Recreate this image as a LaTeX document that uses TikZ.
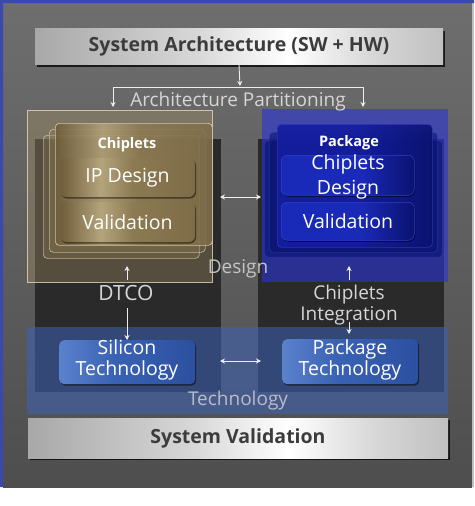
\documentclass[tikz,border=0pt]{standalone}
\usepackage{fontspec}
\setmainfont{Open Sans}
\usetikzlibrary{arrows.meta,shadows}

\definecolor{bgtop}{HTML}{6E6E6E}
\definecolor{bgbot}{HTML}{4E4E4E}
\definecolor{darkc}{HTML}{2A2A2A}
\definecolor{barTxt}{HTML}{3C3C3C}
\definecolor{lblc}{HTML}{D6D6D6}
\definecolor{lblc2}{HTML}{C4C4C4}
\definecolor{techlbl}{HTML}{B8BCC8}
\definecolor{arrowc}{HTML}{EEEEEE}
\definecolor{tanc}{HTML}{8C7A52}
\definecolor{tanL}{HTML}{B4A47C}
\definecolor{tanD}{HTML}{6E5C3A}
\definecolor{tanM}{HTML}{7E6C48}
\definecolor{tanEdge}{HTML}{DDD2B2}
\definecolor{tanOut}{HTML}{A89464}
\definecolor{pkgOut}{HTML}{2A34D8}
\definecolor{pkgL}{HTML}{1A2AB8}
\definecolor{pkgD}{HTML}{0A1270}
\definecolor{pkgF}{HTML}{141EA0}
\definecolor{pkgEdge}{HTML}{3040C8}
\definecolor{bandc}{HTML}{3C62B8}
\definecolor{techL}{HTML}{5A82CC}
\definecolor{techM}{HTML}{3A62B4}
\definecolor{techD}{HTML}{2C50A0}
\definecolor{frameBlue}{HTML}{3A48B0}
\definecolor{mA}{HTML}{A8A8A8}
\definecolor{mB}{HTML}{D8D8D8}
\definecolor{mC}{HTML}{C0C0C0}

\pgfdeclarehorizontalshading{metalbar}{100bp}{color(0bp)=(mA); color(25bp)=(mA); color(45bp)=(mB); color(56bp)=(white); color(66bp)=(mB); color(75bp)=(mC); color(100bp)=(mC)}
\pgfdeclarehorizontalshading{tanshade}{100bp}{color(0bp)=(tanD); color(25bp)=(tanD); color(40bp)=(tanL); color(52bp)=(tanc); color(75bp)=(tanM); color(100bp)=(tanM)}
\pgfdeclarehorizontalshading{pkgshade}{100bp}{color(0bp)=(pkgL); color(25bp)=(pkgL); color(55bp)=(pkgL); color(75bp)=(pkgD); color(100bp)=(pkgD)}
\pgfdeclarehorizontalshading{pkgfrontshade}{100bp}{color(0bp)=(pkgF); color(25bp)=(pkgF); color(50bp)=(pkgF); color(75bp)=(pkgD); color(100bp)=(pkgD)}
\pgfdeclarehorizontalshading{techshade}{100bp}{color(0bp)=(techL); color(25bp)=(techL); color(45bp)=(techM); color(75bp)=(techD); color(100bp)=(techD)}

\newcommand\barfontX{\fontsize{19.5}{21}\selectfont\bfseries}
\newcommand\lblfontX{\fontsize{19}{22}\selectfont}
\newcommand\boxfontX{\fontsize{19.5}{21}\selectfont}
\newcommand\headfontX{\fontsize{14.5}{16}\selectfont\bfseries}

\begin{document}
\begin{tikzpicture}[x=1pt,y=-1pt,
  arr/.style={draw=arrowc, line width=0.9pt, -{Stealth[length=5pt,width=5pt]}},
  darr/.style={draw=arrowc, line width=0.9pt, {Stealth[length=5pt,width=5pt]}-{Stealth[length=5pt,width=5pt]}},
  plainline/.style={draw=arrowc, line width=0.9pt},
  lbl/.style={text=lblc, inner sep=0pt, font=\lblfontX},
  metal/.style={shade, shading=metalbar, inner sep=0pt, text=barTxt, font=\barfontX,
    drop shadow={shadow xshift=1.5pt, shadow yshift=-2pt, fill=black, opacity=0.75}},
  darkbox/.style={fill=darkc, inner sep=0pt, anchor=north west},
  tanouter/.style={fill=tanOut, fill opacity=0.35, draw=tanEdge, draw opacity=0.85, line width=0.8pt, inner sep=0pt, anchor=north west},
  tanlayer/.style={fill=tanc, fill opacity=0.3, draw=tanEdge, draw opacity=0.7, line width=0.7pt, rounded corners=4pt, inner sep=0pt, anchor=north west},
  tanfront/.style={shade, shading=tanshade, draw=tanEdge, line width=0.7pt, rounded corners=4pt, inner sep=0pt, anchor=north west, opacity=0.85},
  tanbox/.style={shade, shading=tanshade, rounded corners=6pt, inner sep=0pt, text=white, font=\boxfontX,
    drop shadow={shadow xshift=1pt, shadow yshift=-1.5pt, fill=black, opacity=0.5}},
  pkgouter/.style={fill=pkgOut, fill opacity=0.6, inner sep=0pt, anchor=north west},
  pkglayer/.style={fill=pkgD, fill opacity=0.6, draw=pkgEdge, draw opacity=0.5, line width=0.7pt, rounded corners=4pt, inner sep=0pt, anchor=north west},
  pkgfront/.style={shade, shading=pkgfrontshade, draw=pkgEdge, draw opacity=0.7, line width=0.7pt, rounded corners=4pt, inner sep=0pt, anchor=north west, fill opacity=0.92},
  pkgbox/.style={shade, shading=pkgshade, draw=pkgEdge, line width=0.5pt, rounded corners=6pt, inner sep=0pt, anchor=north west,
    drop shadow={shadow xshift=1pt, shadow yshift=-1.5pt, fill=black, opacity=0.5}},
  techbox/.style={shade, shading=techshade, rounded corners=5pt, inner sep=0pt, anchor=north west,
    drop shadow={shadow xshift=1pt, shadow yshift=-1.5pt, fill=black, opacity=0.5}},
  wtxt/.style={text=white, inner sep=0pt, font=\boxfontX, align=center},
  headtxt/.style={text=white, inner sep=0pt, font=\headfontX}
]
\path[use as bounding box] (0,0) rectangle (474,506);
% frame and background
\fill[white] (0,0) rectangle (474,506);
\fill[bgbot] (3,3) rectangle (472,487);
\shade[top color=bgtop, bottom color=bgbot] (3,3) rectangle (472,487);
\fill[mC] (472,3) rectangle (474,487);
\fill[frameBlue] (0,0) -- (474,0) -- (474,3) -- (3,3) -- (3,487) -- (0,487) -- cycle;

% dark back boxes
\node[darkbox, minimum width=186pt, minimum height=253pt] (ldark) at (35,139) {};
\node[darkbox, minimum width=186pt, minimum height=253pt] (rdark) at (258,139) {};

% top bar
\node[metal, minimum width=408pt, minimum height=36pt] (sysarch) at (239,46.5) {System Architecture (SW + HW)};

% chiplets stack
\node[tanouter, minimum width=185pt, minimum height=172pt] (chipouter) at (27,110) {};
\node[tanlayer, minimum width=156pt, minimum height=123pt] (chipL3) at (43,135) {};
\node[tanlayer, minimum width=156pt, minimum height=123pt] (chipL2) at (49,129) {};
\node[tanfront, minimum width=157pt, minimum height=122pt] (chipL1) at (55,123) {};
\node[headtxt] (chiphead) at (127,145) {Chiplets};
\node[tanbox, minimum width=135pt, minimum height=39pt] (ipd) at (127.5,177.5) {IP Design};
\node[tanbox, minimum width=135pt, minimum height=40pt] (cval) at (127.5,222) {Validation};

% package stack
\node[pkgouter, minimum width=186pt, minimum height=173pt] (pkgouterbox) at (262,109) {};
\node[pkglayer, minimum width=178pt, minimum height=117pt] (pkgL3) at (264,140) {};
\node[pkglayer, minimum width=168pt, minimum height=120pt] (pkgL2) at (269,132) {};
\node[pkgfront, minimum width=155pt, minimum height=123pt] (pkgL1) at (277,124) {};
\node[headtxt] (pkghead) at (349,143) {Package};
\node[pkgbox, minimum width=133pt, minimum height=40pt] (pcd) at (281,155) {};
\node[pkgbox, minimum width=133pt, minimum height=38pt] (pval) at (281,202) {};
\node[wtxt, font=\fontsize{19.5}{25}\selectfont] (pcdtxt) at (348,177) {Chiplets\\Design};
\node[wtxt] (pvaltxt) at (348,221) {Validation};

% technology band
\node[fill=bandc, fill opacity=0.55, inner sep=0pt, anchor=north west, minimum width=421pt, minimum height=87pt] (band) at (27,327) {};
\node[techbox, minimum width=136pt, minimum height=44pt] (sitech) at (59,340) {};
\node[techbox, minimum width=136pt, minimum height=45pt] (pktech) at (282,339) {};
\node[wtxt, font=\fontsize{19.5}{20.5}\selectfont] (sitxt) at (127,360) {Silicon\\Technology};
\node[wtxt, font=\fontsize{19.5}{20.5}\selectfont] (pktxt) at (350,360) {Package\\Technology};

% bottom bar
\node[metal, minimum width=420pt, minimum height=40pt] (sysval) at (238,438) {System Validation};

% labels
\node[lbl] (archpart) at (238,102) {Architecture Partitioning};
\node[lbl, text=lblc2] (designlbl) at (238,269) {Design};
\node[lbl, font=\fontsize{21}{22}\selectfont] (dtco) at (126,293) {DTCO};
\node[lbl, align=center, font=\fontsize{19}{21}\selectfont] (chint) at (349,305.5) {Chiplets\\Integration};
\node[lbl, text=techlbl] (techlbl) at (238,401) {Technology};

% connectors
\coordinate (splitC) at (240,86);
\coordinate (splitL) at (113,87);
\coordinate (splitR) at (363,87);
\coordinate (tipL) at (113,107);
\coordinate (tipR) at (363,107);
\draw[arr] (sysarch.south) -- (splitC);
\draw[plainline] (splitL) -- (splitR);
\draw[arr] (splitL) -- (tipL);
\draw[arr] (splitR) -- (tipR);

\coordinate (desL) at (220,197);
\coordinate (desR) at (261,197);
\draw[darr] (desL) -- (desR);
\coordinate (techL) at (220,361);
\coordinate (techR) at (261,361);
\draw[darr] (techL) -- (techR);

\coordinate (dtcoUpS) at (127,280);
\coordinate (dtcoUpT) at (127,266);
\draw[arr] (dtcoUpS) -- (dtcoUpT);
\coordinate (dtcoDnS) at (127,308);
\draw[arr] (dtcoDnS) -- (sitech.north -| dtcoDnS);
\coordinate (ciUpS) at (349,280);
\coordinate (ciUpT) at (349,266);
\draw[arr] (ciUpS) -- (ciUpT);
\coordinate (ciDnS) at (349,322);
\coordinate (ciDnT) at (349,334);
\draw[arr] (ciDnS) -- (ciDnT);
\end{tikzpicture}
\end{document}
